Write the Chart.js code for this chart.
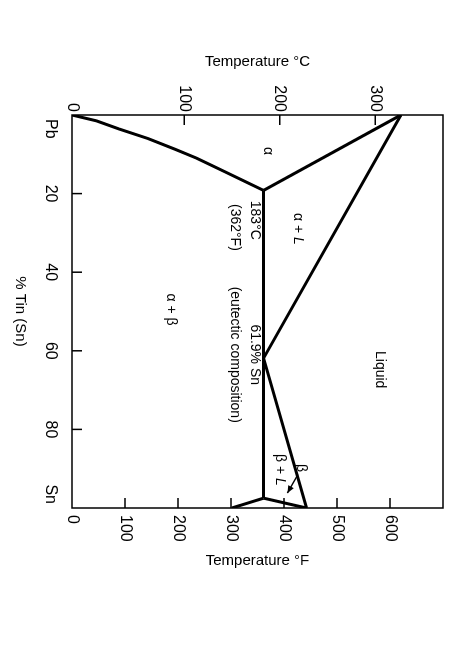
<!DOCTYPE html>
<html>
<head>
<meta charset="utf-8">
<script src="https://cdn.jsdelivr.net/npm/chart.js@4"></script>
<style>
  body { margin: 0; background: #fff; width: 474px; height: 662px; overflow: hidden; position: relative; }
  #wrap { position: absolute; left: -43px; top: 74px; width: 560px; height: 474px; transform: rotate(90deg); }
</style>
</head>
<body>
<div id="wrap"><canvas id="phase" width="560" height="474"></canvas></div>
<script>
// % tin vs temperature (°C)
const liquidusSn = [0, 61.9, 100];
const liquidusC = [327, 183, 228];
const solidusAlphaSn = [0, 19.2];
const solidusAlphaC = [327, 183];
const solvusAlphaSn = [19.2, 16.5, 13.8, 11, 8.7, 6, 3.6, 1.5, 0];
const solvusAlphaC = [183, 160, 137, 113, 90, 62, 32, 8, -17.8];
const eutecticSn = [19.2, 97.5];
const eutecticC = [183, 183];
const solidusBetaSn = [97.5, 100];
const solidusBetaC = [183, 228];
const solvusBetaSn = [97.5, 100];
const solvusBetaC = [183, 150];

const celsiusTicks = [0, 100, 200, 300];
const fahrenheitTicks = [0, 100, 200, 300, 400, 500, 600];
const tinTicks = [0, 20, 40, 60, 80, 100];
const tinTickText = ['Pb', '20', '40', '60', '80', 'Sn'];

// phase labels: text, % Sn, °C  ("|" starts the italic part)
const labelText = ["α", "α + |L", "183°C", "(362°F)", "61.9% Sn", "(eutectic composition)", "α + β", "Liquid", "β + |L", "β"];
const labelSn = [9.2, 29, 26.8, 28.6, 61, 61, 49.5, 64.8, 90.3, 89.8];
const labelC = [188, 219, 174, 153, 174, 153, 86, 305, 200, 222];
const arrowFrom = [91.5, 219];
const arrowTo = [96.2, 208];

const fToC = f => (f - 32) / 1.8;

function line(sn, c) {
    return {
        data: sn.map((s, i) => ({ x: s, y: c[i] })),
        showLine: true,
        borderColor: '#000',
        borderWidth: 3,
        pointRadius: 0,
        tension: 0
    };
}

const FAM = 'Liberation Sans, Arial, sans-serif';

const overlay = {
    id: 'overlay',
    afterDatasetsDraw(chart) {
        const ctx = chart.ctx;
        const a = chart.chartArea;
        const xs = chart.scales.x, yc = chart.scales.y, yf = chart.scales.yF;
        ctx.save();
        ctx.strokeStyle = '#000';
        ctx.fillStyle = '#000';
        ctx.lineWidth = 1.5;
        ctx.strokeRect(a.left, a.top, a.right - a.left, a.bottom - a.top);
        // inward tick marks
        ctx.beginPath();
        tinTicks.slice(1, -1).forEach(t => {
            const px = xs.getPixelForValue(t);
            ctx.moveTo(px, a.bottom); ctx.lineTo(px, a.bottom - 10);
        });
        celsiusTicks.slice(1).forEach(t => {
            const py = yc.getPixelForValue(t);
            ctx.moveTo(a.left, py); ctx.lineTo(a.left + 10, py);
        });
        fahrenheitTicks.slice(1).forEach(t => {
            const py = yf.getPixelForValue(t);
            ctx.moveTo(a.right, py); ctx.lineTo(a.right - 10, py);
        });
        ctx.stroke();

        // tick labels
        ctx.font = '16px ' + FAM;
        ctx.textBaseline = 'middle';
        ctx.textAlign = 'right';
        celsiusTicks.forEach(t => ctx.fillText(String(t), a.left - 3, t === 0 ? a.bottom : yc.getPixelForValue(t)));
        ctx.textAlign = 'left';
        fahrenheitTicks.forEach(t => ctx.fillText(String(t), a.right + 7, yf.getPixelForValue(t)));
        tinTicks.forEach((t, i) => {
            let px = xs.getPixelForValue(t);
            ctx.textAlign = 'center';
            if (i === 0) { ctx.textAlign = 'left'; px += 4; }
            if (i === tinTicks.length - 1) { ctx.textAlign = 'right'; px -= 4; }
            ctx.fillText(tinTickText[i], px, a.bottom + 22);
        });

        // axis titles
        ctx.font = '15px ' + FAM;
        ctx.textAlign = 'center';
        const midV = (a.top + a.bottom) / 2;
        [[31, 'Temperature °C'], [530, 'Temperature °F']].forEach(([u, txt]) => {
            ctx.save();
            ctx.translate(u, midV);
            ctx.rotate(-Math.PI / 2);
            ctx.fillText(txt, 0, 0);
            ctx.restore();
        });
        ctx.fillText('% Tin (Sn)', (a.left + a.right) / 2, 454);

        // phase labels
        labelText.forEach((t, i) => {
            const px = xs.getPixelForValue(labelSn[i]);
            const py = yc.getPixelForValue(labelC[i]);
            const parts = t.split('|');
            ctx.font = '14px ' + FAM;
            const w0 = ctx.measureText(parts[0]).width;
            let w1 = 0;
            if (parts[1]) { ctx.font = 'italic 14px ' + FAM; w1 = ctx.measureText(parts[1]).width; }
            const x0 = px - (w0 + w1) / 2;
            ctx.textAlign = 'left';
            ctx.font = '14px ' + FAM;
            ctx.fillText(parts[0], x0, py);
            if (parts[1]) { ctx.font = 'italic 14px ' + FAM; ctx.fillText(parts[1], x0 + w0, py); }
        });

        // arrow pointing into the beta field
        const x1 = xs.getPixelForValue(arrowFrom[0]), y1 = yc.getPixelForValue(arrowFrom[1]);
        const x2 = xs.getPixelForValue(arrowTo[0]), y2 = yc.getPixelForValue(arrowTo[1]);
        ctx.lineWidth = 1.2;
        ctx.beginPath(); ctx.moveTo(x1, y1); ctx.lineTo(x2, y2); ctx.stroke();
        const ang = Math.atan2(y2 - y1, x2 - x1);
        ctx.beginPath();
        ctx.moveTo(x2, y2);
        ctx.lineTo(x2 - 8 * Math.cos(ang - 0.4), y2 - 8 * Math.sin(ang - 0.4));
        ctx.lineTo(x2 - 8 * Math.cos(ang + 0.4), y2 - 8 * Math.sin(ang + 0.4));
        ctx.closePath(); ctx.fill();
        ctx.restore();
    }
};

const hidden = { grid: { display: false }, border: { display: false }, ticks: { display: false } };

new Chart(document.getElementById('phase'), {
    type: 'scatter',
    data: {
        datasets: [
            line(liquidusSn, liquidusC),
            line(solidusAlphaSn, solidusAlphaC),
            line(solvusAlphaSn, solvusAlphaC),
            line(eutecticSn, eutecticC),
            line(solidusBetaSn, solidusBetaC),
            line(solvusBetaSn, solvusBetaC)
        ]
    },
    options: {
        responsive: false,
        animation: false,
        layout: { padding: { top: 31, left: 0, right: 0, bottom: 0 } },
        plugins: { legend: { display: false }, tooltip: { enabled: false } },
        scales: {
            x: { type: 'linear', min: 0, max: 100, afterFit: s => { s.height = 72; }, ...hidden },
            y: { type: 'linear', position: 'left', min: fToC(0), max: fToC(700), afterFit: s => { s.width = 84; }, ...hidden },
            yF: { type: 'linear', position: 'right', min: 0, max: 700, afterFit: s => { s.width = 83; }, ...hidden }
        }
    },
    plugins: [overlay]
});
</script>
</body>
</html>
